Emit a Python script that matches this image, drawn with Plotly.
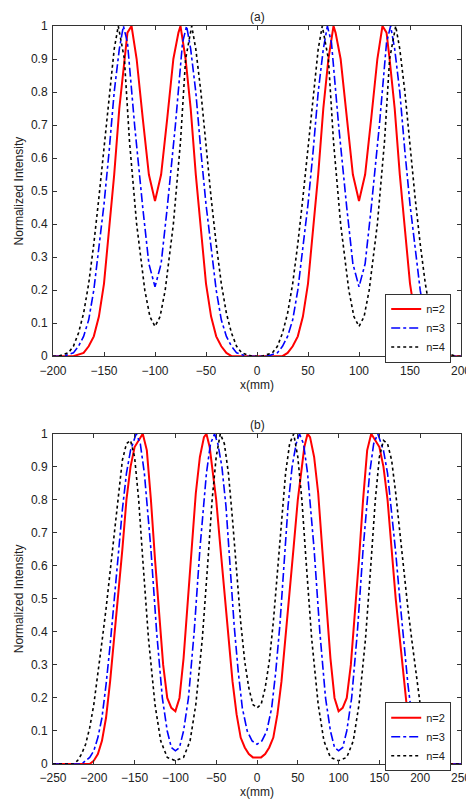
import plotly.graph_objects as go

# ---- Panel (a) data ----
a_x2 = [-200,-180,-170,-165,-160,-155,-150,-145,-140,-135,-130,-127,-123,-118,-112,-106,-100,-94,-88,-82,-77,-75,-70,-65,-60,-55,-50,-45,-40,-35,-30,-25,0,
        25,30,35,40,45,50,55,60,65,70,75,77,82,88,94,100,106,112,118,123,127,130,135,140,145,150,155,160,165,170,180,200]
a_y2 = [0,0,0.01,0.03,0.06,0.12,0.22,0.38,0.55,0.75,0.9,0.98,1.0,0.9,0.72,0.55,0.47,0.55,0.72,0.9,0.98,1.0,0.9,0.75,0.55,0.38,0.22,0.12,0.06,0.03,0.01,0,0,
        0,0.01,0.03,0.06,0.12,0.22,0.38,0.55,0.75,0.9,1.0,0.98,0.9,0.72,0.55,0.47,0.55,0.72,0.9,1.0,0.98,0.9,0.75,0.55,0.38,0.22,0.12,0.06,0.03,0.01,0,0]
a_x3 = [-200,-190,-180,-175,-170,-165,-160,-155,-150,-145,-140,-135,-131,-127,-120,-112,-106,-100,-94,-88,-80,-73,-69,-65,-60,-55,-50,-45,-40,-35,-30,-25,-20,-10,
        10,20,25,30,35,40,45,50,55,60,65,69,73,80,88,94,100,106,112,120,127,131,135,140,145,150,155,160,165,170,175,180,190,200]
a_y3 = [0,0,0.01,0.03,0.06,0.11,0.2,0.33,0.46,0.62,0.8,0.93,1.0,0.95,0.7,0.45,0.28,0.21,0.28,0.45,0.7,0.95,1.0,0.93,0.8,0.62,0.46,0.33,0.2,0.11,0.06,0.03,0.01,0,
        0,0.01,0.03,0.06,0.11,0.2,0.33,0.46,0.62,0.8,0.93,1.0,0.95,0.7,0.45,0.28,0.21,0.28,0.45,0.7,0.95,1.0,0.93,0.8,0.62,0.46,0.33,0.2,0.11,0.06,0.03,0.01,0,0]
a_x4 = [-200,-195,-185,-180,-175,-170,-165,-160,-155,-150,-145,-140,-136,-130,-125,-118,-110,-105,-100,-95,-90,-82,-75,-70,-64,-60,-55,-50,-45,-40,-35,-30,-25,-20,-15,-5,
        5,15,20,25,30,35,40,45,50,55,60,64,70,75,82,90,95,100,105,110,118,125,130,136,140,145,150,155,160,165,170,175,180,185,195,200]
a_y4 = [0,0,0.01,0.03,0.07,0.13,0.22,0.34,0.48,0.63,0.8,0.93,1.0,0.9,0.65,0.4,0.2,0.12,0.09,0.12,0.2,0.4,0.65,0.9,1.0,0.93,0.8,0.63,0.48,0.34,0.22,0.13,0.07,0.03,0.01,0,
        0,0.01,0.03,0.07,0.13,0.22,0.34,0.48,0.63,0.8,0.93,1.0,0.9,0.65,0.4,0.2,0.12,0.09,0.12,0.2,0.4,0.65,0.9,1.0,0.93,0.8,0.63,0.48,0.34,0.22,0.13,0.07,0.03,0.01,0,0]

# ---- Panel (b) data ----
b_x2 = [-250,-205,-200,-195,-190,-185,-180,-175,-170,-165,-160,-155,-150,-145,-140,-135,-130,-125,-120,-115,-110,-105,-100,-95,-90,-85,-80,-75,-70,-65,-62,-58,-55,-50,-45,-40,-35,-30,-25,-20,-15,-10,-5,0,
        5,10,15,20,25,30,35,40,45,50,55,58,62,65,70,75,80,85,90,95,100,105,110,115,120,125,130,135,140,145,150,155,160,165,170,175,180,185,190,195,200,205,250]
b_y2 = [0,0,0.01,0.03,0.07,0.14,0.25,0.38,0.5,0.65,0.8,0.9,0.96,0.98,1.0,0.95,0.8,0.62,0.45,0.3,0.2,0.17,0.16,0.2,0.32,0.48,0.65,0.82,0.93,0.99,1.0,0.96,0.9,0.8,0.66,0.52,0.38,0.25,0.15,0.08,0.05,0.03,0.02,0.02,
        0.02,0.03,0.05,0.08,0.15,0.25,0.38,0.52,0.66,0.8,0.9,0.96,1.0,0.99,0.93,0.82,0.65,0.48,0.32,0.2,0.16,0.17,0.2,0.3,0.45,0.62,0.8,0.95,1.0,0.98,0.96,0.9,0.8,0.65,0.5,0.38,0.25,0.14,0.07,0.03,0.01,0,0]
b_x3 = [-250,-215,-210,-205,-200,-195,-190,-185,-180,-175,-170,-165,-160,-155,-148,-143,-138,-130,-123,-116,-110,-105,-100,-95,-90,-84,-77,-70,-62,-57,-52,-48,-43,-38,-33,-28,-23,-18,-12,-6,0,
        6,12,18,23,28,33,38,43,48,52,57,62,70,77,84,90,95,100,105,110,116,123,130,138,143,148,155,160,165,170,175,180,185,190,195,200,205,210,215,250]
b_y3 = [0,0,0.01,0.02,0.04,0.08,0.14,0.24,0.36,0.5,0.64,0.77,0.88,0.95,1.0,0.97,0.88,0.65,0.4,0.2,0.1,0.05,0.04,0.05,0.1,0.2,0.4,0.65,0.88,0.97,1.0,0.97,0.9,0.78,0.6,0.42,0.28,0.17,0.1,0.07,0.06,
        0.07,0.1,0.17,0.28,0.42,0.6,0.78,0.9,0.97,1.0,0.97,0.88,0.65,0.4,0.2,0.1,0.05,0.04,0.05,0.1,0.2,0.4,0.65,0.88,0.97,1.0,0.95,0.88,0.77,0.64,0.5,0.36,0.24,0.14,0.08,0.04,0.02,0.01,0,0]
b_x4 = [-250,-225,-220,-215,-210,-205,-200,-195,-190,-185,-180,-175,-170,-165,-160,-155,-150,-145,-140,-133,-125,-118,-110,-100,-90,-82,-75,-67,-60,-55,-50,-45,-40,-35,-30,-25,-20,-15,-10,-5,0,
        5,10,15,20,25,30,35,40,45,50,55,60,67,75,82,90,100,110,118,125,133,140,145,150,155,160,165,170,175,180,185,190,195,200,205,210,215,220,225,250]
b_y4 = [0,0,0.01,0.03,0.06,0.11,0.18,0.27,0.37,0.47,0.58,0.7,0.82,0.92,0.97,0.98,0.93,0.8,0.62,0.38,0.18,0.07,0.02,0.01,0.02,0.07,0.18,0.38,0.62,0.8,0.93,1.0,0.97,0.88,0.74,0.58,0.43,0.31,0.23,0.18,0.17,
        0.18,0.23,0.31,0.43,0.58,0.74,0.88,0.97,1.0,0.93,0.8,0.62,0.38,0.18,0.07,0.02,0.01,0.02,0.07,0.18,0.38,0.62,0.8,0.93,0.98,0.97,0.92,0.82,0.7,0.58,0.47,0.37,0.27,0.18,0.11,0.06,0.03,0.01,0,0]

names = ["n=2", "n=3", "n=4"]
styles = [dict(color="#ff0000", width=2, dash="solid"),
          dict(color="#0000ff", width=1.6, dash="dashdot"),
          dict(color="#000000", width=1.6, dash="dot")]
a_tick = [-200, -150, -100, -50, 0, 50, 100, 150, 200]
b_tick = [-250, -200, -150, -100, -50, 0, 50, 100, 150, 200, 250]
y_tick = [0, 0.1, 0.2, 0.3, 0.4, 0.5, 0.6, 0.7, 0.8, 0.9, 1]
y_lab = ["0", "0.1", "0.2", "0.3", "0.4", "0.5", "0.6", "0.7", "0.8", "0.9", "1"]

fig = go.Figure()
for (x, y), nm, st in zip([(a_x2, a_y2), (a_x3, a_y3), (a_x4, a_y4)], names, styles):
    fig.add_trace(go.Scatter(x=x, y=y, mode="lines", name=nm, line=st, xaxis="x", yaxis="y", legend="legend"))
for (x, y), nm, st in zip([(b_x2, b_y2), (b_x3, b_y3), (b_x4, b_y4)], names, styles):
    fig.add_trace(go.Scatter(x=x, y=y, mode="lines", name=nm, line=st, xaxis="x2", yaxis="y2", legend="legend2"))

ax = dict(showgrid=False, zeroline=False, showline=True, mirror="ticks", linecolor="#333",
          ticks="inside", ticklen=4, tickcolor="#333", tickfont=dict(size=12, color="#222"))
xa = dict(ax, ticklabelstandoff=3)
ya = dict(ax, ticklabelstandoff=2)
fig.update_layout(
    width=474, height=799, paper_bgcolor="white", plot_bgcolor="white",
    margin=dict(l=42, r=11, t=16, b=41),
    font=dict(family="Liberation Sans, Arial", size=11, color="#222"),
    xaxis=dict(xa, domain=[0, 1], range=[-200, 200], tickvals=a_tick, anchor="y",
               title=dict(text="x(mm)", standoff=2, font=dict(size=12))),
    yaxis=dict(ya, domain=[0.5526, 1], range=[0, 1], tickvals=y_tick, ticktext=y_lab, anchor="x",
               title=dict(text="Normalized Intensity", standoff=4, font=dict(size=12))),
    xaxis2=dict(xa, domain=[0, 1], range=[-250, 250], tickvals=b_tick, anchor="y2",
                title=dict(text="x(mm)", standoff=2, font=dict(size=12))),
    yaxis2=dict(ya, domain=[0, 0.4474], range=[0, 1], tickvals=y_tick, ticktext=y_lab, anchor="x2",
                title=dict(text="Normalized Intensity", standoff=4, font=dict(size=12))),
    legend=dict(x=0.976, y=0.6375, xanchor="right", yanchor="top", bgcolor="white",
                bordercolor="#333", borderwidth=1, font=dict(size=11), tracegroupgap=0),
    legend2=dict(x=0.976, y=0.0836, xanchor="right", yanchor="top", bgcolor="white",
                 bordercolor="#333", borderwidth=1, font=dict(size=11), tracegroupgap=0),
    annotations=[
        dict(text="(a)", x=0.5, y=1.0, xref="paper", yref="paper", xanchor="center", yanchor="bottom",
             showarrow=False, font=dict(size=12)),
        dict(text="(b)", x=0.5, y=0.4474, xref="paper", yref="paper", xanchor="center", yanchor="bottom",
             showarrow=False, font=dict(size=12)),
    ],
)
fig.write_html("out.html")
